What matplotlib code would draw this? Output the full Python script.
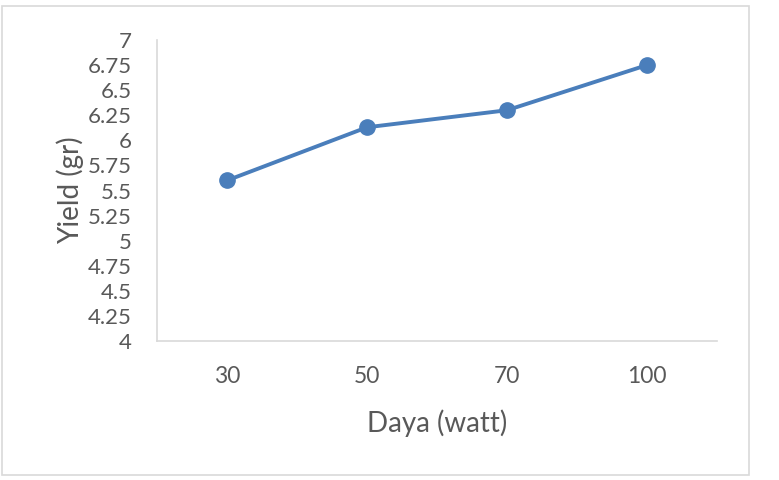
import matplotlib.pyplot as plt
from matplotlib.patches import Rectangle

daya = ["30", "50", "70", "100"]
yield_gr = [5.6, 6.13, 6.3, 6.75]
y_ticks = [4, 4.25, 4.5, 4.75, 5, 5.25, 5.5, 5.75, 6, 6.25, 6.5, 6.75, 7]
y_labels = ["4", "4.25", "4.5", "4.75", "5", "5.25", "5.5", "5.75", "6", "6.25", "6.5", "6.75", "7"]

TEXT = "#595959"
AXIS = "#D9D9D9"
BLUE = "#4A7EBB"

plt.rcParams['font.family'] = ['Lato', 'DejaVu Sans']

fig = plt.figure(figsize=(7.79, 4.8), dpi=100)
ax = fig.add_axes([157 / 779, 1 - 341 / 480, 560 / 779, 301 / 480])

# outer chart border
fig.patches.append(Rectangle((2 / 779, 5 / 480), 747 / 779, 469 / 480,
                             transform=fig.transFigure, fill=False,
                             edgecolor=AXIS, linewidth=1.2))

x = range(len(daya))
ax.plot(x, yield_gr, color=BLUE, linewidth=2.8, marker='o', markersize=11,
        zorder=3)

ax.set_xlim(-0.5, len(daya) - 0.5)
ax.set_ylim(4, 7)
ax.set_xticks(list(x))
ax.set_xticklabels(daya)
ax.set_yticks(y_ticks)
ax.set_yticklabels(y_labels)
ax.tick_params(length=0, colors=TEXT)
ax.tick_params(axis='y', pad=18, labelsize=16)
ax.tick_params(axis='x', pad=18, labelsize=16.5)

for side in ['top', 'right']:
    ax.spines[side].set_visible(False)
for side in ['left', 'bottom']:
    ax.spines[side].set_color(AXIS)
    ax.spines[side].set_linewidth(1.2)

ax.set_xlabel("Daya (watt)", fontsize=20, color=TEXT, labelpad=16)
ax.set_ylabel("Yield (gr)", fontsize=20, color=TEXT, labelpad=3)

fig.savefig("out.png", dpi=100)
